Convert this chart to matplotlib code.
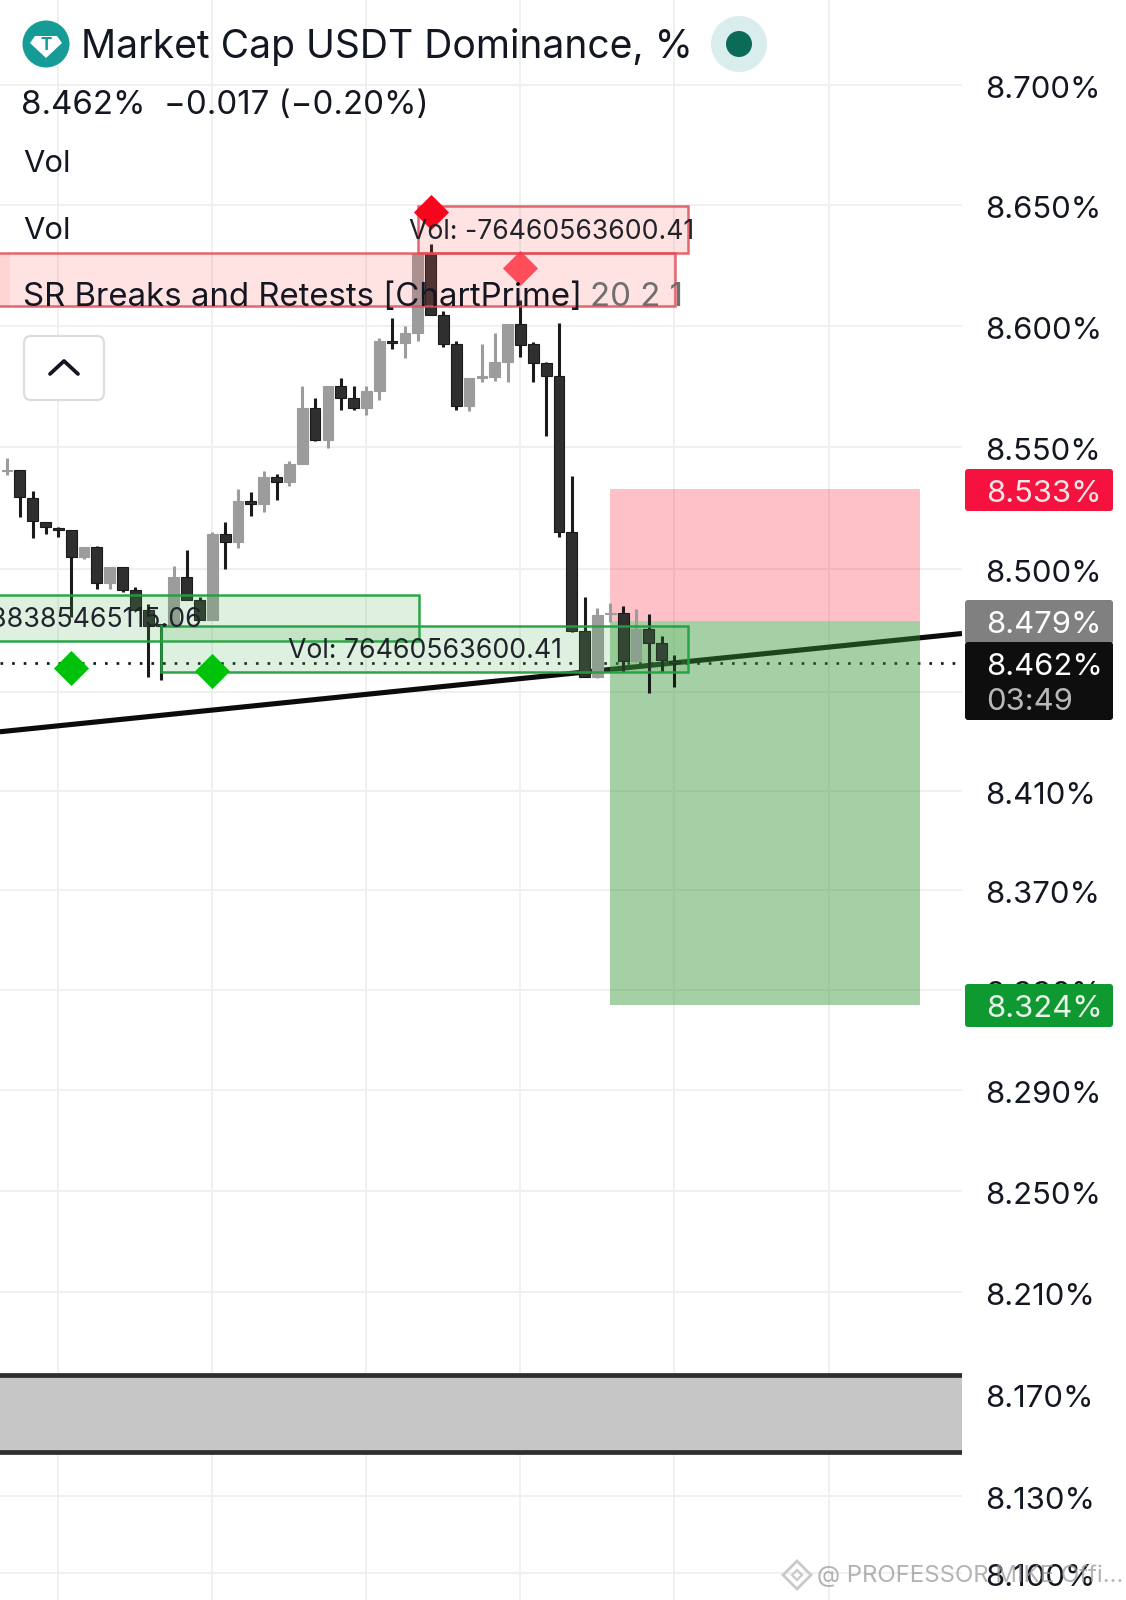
import matplotlib
matplotlib.use("Agg")
import matplotlib.pyplot as plt
from matplotlib.patches import Rectangle, Circle, Polygon, FancyBboxPatch
from matplotlib.transforms import Affine2D
from matplotlib.ticker import NullLocator

plt.rcParams['font.family'] = ['Inter', 'DejaVu Sans']

# ---- chart values ----
opens = [8.5403, 8.5406, 8.5294, 8.5195, 8.5171, 8.5160, 8.5050, 8.5091, 8.4944, 8.5010,
         8.4917, 8.4833, 8.4776, 8.4771, 8.4971, 8.4876, 8.4792, 8.5146, 8.5112, 8.5280,
         8.5266, 8.5378, 8.5359, 8.5430, 8.5661, 8.5529, 8.5751, 8.5705, 8.5663, 8.5732,
         8.5939, 8.5928, 8.5972, 8.6298, 8.6045, 8.5925, 8.5672, 8.5787, 8.5790, 8.5850,
         8.6007, 8.5925, 8.5848, 8.5795, 8.5154, 8.4748, 8.4561, 8.4819, 8.4822, 8.4626,
         8.4756, 8.4702, 8.4629]
highs = [8.5458, 8.5408, 8.5321, 8.5195, 8.5173, 8.5160, 8.5091, 8.5095, 8.5010, 8.5010,
         8.4928, 8.4860, 8.4778, 8.5014, 8.5080, 8.4887, 8.5154, 8.5195, 8.5330, 8.5317,
         8.5403, 8.5392, 8.5444, 8.5751, 8.5705, 8.5751, 8.5784, 8.5751, 8.5751, 8.5950,
         8.6032, 8.5999, 8.6298, 8.6339, 8.6060, 8.5936, 8.5784, 8.5925, 8.5969, 8.6007,
         8.6107, 8.5933, 8.5852, 8.6013, 8.5381, 8.4887, 8.4843, 8.4865, 8.4849, 8.4838,
         8.4819, 8.4729, 8.4651]
lows = [8.5385, 8.5214, 8.5130, 8.5143, 8.5132, 8.4805, 8.5044, 8.4920, 8.4920, 8.4909,
        8.4833, 8.4561, 8.4552, 8.4767, 8.4876, 8.4792, 8.4792, 8.5003, 8.5089, 8.5217,
        8.5235, 8.5285, 8.5340, 8.5430, 8.5526, 8.5499, 8.5655, 8.5652, 8.5633, 8.5696,
        8.5903, 8.5866, 8.5939, 8.6045, 8.5914, 8.5652, 8.5650, 8.5768, 8.5773, 8.5769,
        8.5870, 8.5768, 8.5545, 8.5132, 8.4746, 8.4561, 8.4558, 8.4785, 8.4583, 8.4622,
        8.4496, 8.4583, 8.4520]
closes = [8.5408, 8.5296, 8.5198, 8.5173, 8.5162, 8.5050, 8.5091, 8.4944, 8.5010, 8.4917,
          8.4835, 8.4771, 8.4770, 8.4971, 8.4876, 8.4792, 8.5143, 8.5112, 8.5280, 8.5266,
          8.5378, 8.5359, 8.5430, 8.5661, 8.5529, 8.5751, 8.5705, 8.5663, 8.5732, 8.5936,
          8.5930, 8.5972, 8.6298, 8.6045, 8.5925, 8.5672, 8.5784, 8.5795, 8.5850, 8.6007,
          8.5922, 8.5848, 8.5795, 8.5154, 8.4748, 8.4564, 8.4816, 8.4824, 8.4626, 8.4758,
          8.4702, 8.4632, 8.4621]

price_ticks = [8.70, 8.65, 8.60, 8.55, 8.50, 8.45, 8.41, 8.37, 8.33, 8.29, 8.25, 8.21, 8.17, 8.13, 8.10]
time_grid = [4, 16, 28, 40, 52, 64]

# zones: (start bar, end bar, top price, bottom price)
red_zones = [(32, 53.05, 8.6497, 8.6300), (-2, 52.05, 8.6300, 8.6082)]
red_zone_old = (-2, 0.25, 8.6300, 8.6082)
green_zones = [(-2, 32.1, 8.4896, 8.4710), (12, 53.05, 8.4771, 8.4584)]
red_signals = [(33, 8.6472), (40, 8.6241)]
green_signals = [(5, 8.4599), (16, 8.4588)]
trend_bars = [-0.55, 74.4]
trend_prices = [8.4340, 8.4739]
last_price = 8.462
entry_price = 8.479
stop_price = 8.533
target_price = 8.324
position_bars = [47, 71.1]
band_top = 8.1775
band_bottom = 8.1473

W, H = 1126, 1600
CHART_W = 962
fig = plt.figure(figsize=(W / 100, H / 100), dpi=100, facecolor='white')
ax = fig.add_axes([0, 0, CHART_W / W, 1])
px = Affine2D().scale(1 / W, -1 / H).translate(0, 1) + fig.transFigure


def fs(pixels):
    return pixels * 0.72


ax.set_yscale('log')
ax.set_xlim(-0.546, 74.4)
ax.set_ylim(8.0895, 8.73572)
for s in ax.spines.values():
    s.set_visible(False)
ax.set_axisbelow(True)
ax.yaxis.tick_right()
ax.yaxis.set_minor_locator(NullLocator())
ax.set_yticks(price_ticks)
ax.set_yticklabels([f"{v:.3f}%" for v in price_ticks], fontsize=fs(31), color='#131722')
ax.tick_params(axis='y', length=0, pad=16.6)
for lab in ax.get_yticklabels():
    lab.set_transform(lab.get_transform() + Affine2D().translate(0, -2))
ax.set_xticks(time_grid)
ax.set_xticklabels([])
ax.tick_params(axis='x', length=0)
ax.grid(True, color='#f0f0f1', lw=1.4)

# support band
ax.axhspan(band_bottom, band_top, facecolor='#c6c6c6', edgecolor='none', zorder=1)
ax.axhline(band_top, color='#2e2e2e', lw=3.4, zorder=1.1)
ax.axhline(band_bottom, color='#2e2e2e', lw=3.4, zorder=1.1)

# last price line
ax.axhline(last_price, color='#111111', lw=1.9, ls=(0, (1, 3.4)), zorder=1.5, xmax=0.994)

# trend line
ax.plot(trend_bars, trend_prices, color='#0b0b0b', lw=3.7, zorder=1.7, solid_capstyle='butt')

# long position
ax.add_patch(Rectangle((position_bars[0], entry_price), position_bars[1] - position_bars[0],
                       stop_price - entry_price, facecolor=(0.98, 0.20, 0.28, 0.30),
                       edgecolor='none', zorder=1.8))
ax.add_patch(Rectangle((position_bars[0], target_price), position_bars[1] - position_bars[0],
                       entry_price - target_price, facecolor=(0.20, 0.58, 0.20, 0.44),
                       edgecolor='none', zorder=1.8))

# candles
BLACK, GRAY = '#2f2f2f', '#9c9c9c'
for i, (o, h, l, c) in enumerate(zip(opens, highs, lows, closes)):
    col = GRAY if c > o else BLACK
    ax.vlines(i, l, h, color='#1a1a1a' if col == BLACK else GRAY, lw=2.2, zorder=2)
    ax.bar(i, abs(c - o), bottom=min(o, c), width=0.84, color=col,
           edgecolor='#1a1a1a' if col == BLACK else GRAY, lw=0.8, zorder=2.1)

# S/R zones
for x0, x1, top, bot in red_zones:
    ax.add_patch(Rectangle((x0, bot), x1 - x0, top - bot, facecolor=(1, 0.32, 0.32, 0.16),
                           edgecolor=(0.88, 0.30, 0.34, 0.85), lw=1.8, zorder=3))
x0, x1, top, bot = red_zone_old
ax.add_patch(Rectangle((x0, bot), x1 - x0, top - bot, facecolor=(1, 0.32, 0.32, 0.10),
                       edgecolor='none', zorder=3))
for x0, x1, top, bot in green_zones:
    ax.add_patch(Rectangle((x0, bot), x1 - x0, top - bot, facecolor=(0.30, 0.69, 0.31, 0.18),
                           edgecolor=(0.13, 0.63, 0.25, 0.95), lw=1.8, zorder=3))

# signals
ax.scatter(*zip(*green_signals), marker='D', s=320, color='#00c20a', linewidths=0, zorder=4)
ax.scatter(*red_signals[0], marker='D', s=320, color='#f5061d', linewidths=0, zorder=4)
ax.scatter(*red_signals[1], marker='D', s=320, color='#ff3344', alpha=0.85, linewidths=0, zorder=4)

# zone labels
txt = dict(color='#20232b', va='center', zorder=5)
ax.text(409, 232, 'Vol: -76460563600.41', fontsize=fs(26.6), transform=px, clip_on=False, **txt)
ax.text(288, 651, 'Vol: 76460563600.41', fontsize=fs(26.7), transform=px, clip_on=False, **txt)
ax.text(202, 620, 'Vol: 88385465115.06', fontsize=fs(26.7), transform=px, ha='right', **txt)

# legend texts
ax.text(81, 47, 'Market Cap USDT Dominance, %', fontsize=fs(39), color='#131722', va='center',
        transform=px, zorder=6)
ax.text(21, 106, '8.462%  \u22120.017 (\u22120.20%)', fontsize=fs(33), color='#131722', va='center',
        transform=px, zorder=6)
ax.text(23, 164, 'Vol', fontsize=fs(31), color='#131722', va='center', transform=px, zorder=6)
ax.text(23, 231, 'Vol', fontsize=fs(31), color='#131722', va='center', transform=px, zorder=6)
ax.text(23, 297, 'SR Breaks and Retests [ChartPrime]', fontsize=fs(33), color='#131722', va='center',
        transform=px, zorder=6)
ax.text(590, 297, '20 2 1', fontsize=fs(33), color='#6f6f6f', va='center', transform=px, zorder=6)

# symbol icon
ax.add_patch(Circle((46, 44), 23.5, facecolor='#159c96', edgecolor='none', transform=px, zorder=6, clip_on=False))
ax.add_patch(Polygon([(35, 36), (57, 36), (62, 43), (46, 58), (30, 43)], closed=True, facecolor='white',
                     edgecolor='none', transform=px, zorder=6.1))
ax.text(46, 45, 'T', fontsize=fs(17), fontweight='bold', color='#159c96', ha='center', va='center',
        transform=px, zorder=6.2)
ax.add_patch(Circle((739, 44), 28, facecolor='#d9eeec', edgecolor='none', transform=px, zorder=6))
ax.add_patch(Circle((739, 44), 13, facecolor='#0b6b58', edgecolor='none', transform=px, zorder=6.1))

# collapse button
ax.add_patch(FancyBboxPatch((28, 340), 72, 56, boxstyle='round,pad=4,rounding_size=7', facecolor='white',
                            edgecolor='#dcdcdc', lw=1.6, transform=px, zorder=6))
ax.plot([50, 64, 78], [374, 361, 374], color='#131722', lw=2.7, transform=px, zorder=6.1,
        solid_capstyle='round', solid_joinstyle='round')


# price tags
def tag(top, bottom, color, lines):
    ax.add_patch(FancyBboxPatch((967, top + 2), 144, bottom - top - 4, boxstyle='round,pad=2,rounding_size=3',
                                facecolor=color, edgecolor='none', transform=px, zorder=7, clip_on=False))
    for y, s, c in lines:
        ax.text(986, y, s, fontsize=fs(31), color=c, va='center', transform=px, zorder=7.1, clip_on=False)


tag(469, 511, '#f5123f', [(494, f'{stop_price:.3f}%', '#f6e6e6')])
tag(600, 644, '#808080', [(625, f'{entry_price:.3f}%', '#ffffff')])
tag(642, 720, '#0e0e0e', [(667, f'{last_price:.3f}%', '#ffffff'), (702, '03:49', '#b8b8b8')])
tag(984, 1027, '#0e9a30', [(1009, f'{target_price:.3f}%', '#e9f5ea')])

# watermark
ax.add_patch(Polygon([(797, 1561), (811, 1575), (797, 1589), (783, 1575)], closed=True, facecolor='none',
                     edgecolor='#c9c9c9', lw=2, transform=px, zorder=8, clip_on=False))
ax.add_patch(Polygon([(797, 1570), (802, 1575), (797, 1580), (792, 1575)], closed=True, facecolor='none',
                     edgecolor='#c9c9c9', lw=1.6, transform=px, zorder=8, clip_on=False))
ax.text(817, 1576, '@ PROFESSOR MIKE Offi...', fontsize=fs(24), color='#9a9a9a', alpha=0.75, va='center',
        transform=px, zorder=8, clip_on=False)

fig.savefig('out.png', dpi=100, facecolor='white')
